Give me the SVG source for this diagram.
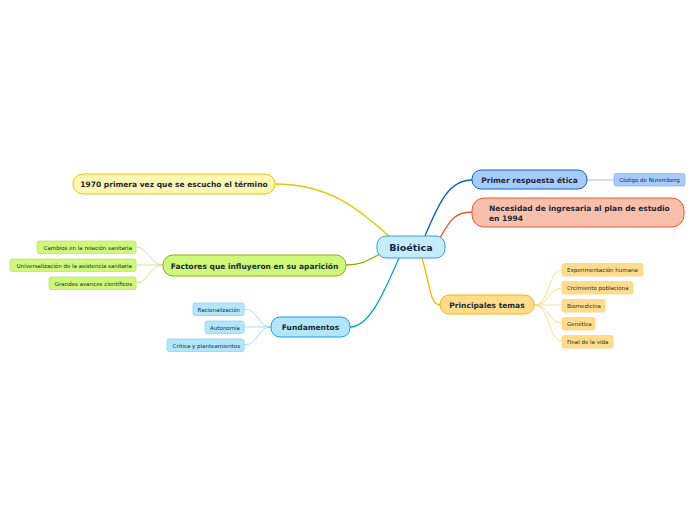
<svg xmlns="http://www.w3.org/2000/svg" width="696" height="520" viewBox="0 0 696 520">
<style>
text{font-family:"DejaVu Sans","Liberation Sans",sans-serif;fill:#1a2a33}
.m{font-size:7.5px;font-weight:bold}
.s{font-size:5.5px}
.c{fill:none;stroke-width:1.3}
.t{fill:none;stroke-width:0.8}
</style>
<rect width="696" height="520" fill="#fff"/>
<g id="connectors">
<path class="c" stroke="#e6c800" d="M390,237 C360,210 330,184 275,184"/>
<path class="c" stroke="#86b300" d="M382,253 C365,262 360,265 346,265"/>
<path class="c" stroke="#0aa0e6" d="M399,258 C385,290 370,327 350,327"/>
<path class="c" stroke="#0b5fd0" d="M425,236 C440,200 450,180 472,180"/>
<path class="c" stroke="#ee5a2a" d="M440,238 C450,220 455,212 472,212"/>
<path class="c" stroke="#ffb300" d="M422,258 C430,285 430,305 440,305"/>
<path class="t" stroke="#8bb3f0" d="M587,180 C600,180 600,180 614,180"/>
<g class="t" stroke="#ffd37a">
<path d="M534,305 C550,305 548,270 562,270"/>
<path d="M534,305 C550,305 548,288 562,288"/>
<path d="M534,305 L562,305"/>
<path d="M534,305 C550,305 548,323 562,323"/>
<path d="M534,305 C550,305 548,341 562,341"/>
</g>
<g class="t" stroke="#c6e07a">
<path d="M163,265 C150,265 148,247 136,247"/>
<path d="M163,265 L136,265"/>
<path d="M163,265 C150,265 148,283 136,283"/>
</g>
<g class="t" stroke="#8ad6f5">
<path d="M271,327 C258,327 258,309 244,309"/>
<path d="M271,327 L244,327"/>
<path d="M271,327 C258,327 258,345 244,345"/>
</g>
</g>
<g id="bioetica"><rect x="377" y="236" width="68" height="22" rx="9" fill="#c6ebfb" stroke="#3a9bd5"/><text x="411" y="251" text-anchor="middle" font-size="9.5" font-weight="bold" style="fill:#0d2a4a">Bioética</text></g>
<g id="primer"><rect x="472" y="170" width="115" height="19" rx="9" fill="#a7cbff" stroke="#0b5fd0"/><text x="529.5" y="182.5" text-anchor="middle" class="m">Primer respuesta ética</text></g>
<g id="nuremberg"><rect x="614" y="173.5" width="71" height="12.5" rx="2" fill="#a7cbff" stroke="#8bb3f0" stroke-width="0.8"/><text x="649.5" y="182" text-anchor="middle" class="s">Código de Nuremberg</text></g>
<g id="necesidad"><rect x="472" y="198" width="212" height="29" rx="12" fill="#f8bfad" stroke="#ee5a2a"/><text x="489" y="211" class="m">Necesidad de ingresaria al plan de estudio</text><text x="489" y="220.5" class="m">en 1994</text></g>
<g id="principales"><rect x="440" y="295" width="94" height="19" rx="9" fill="#ffdc8a" stroke="#ffb300"/><text x="487" y="307.5" text-anchor="middle" class="m">Principales temas</text></g>
<g id="exp"><rect x="562" y="263.5" width="81" height="12.5" rx="2" fill="#ffdc8a" stroke="#ffd37a" stroke-width="0.8"/><text x="567" y="272" class="s">Experimentación humana</text></g>
<g id="crec"><rect x="562" y="281.5" width="71" height="12.5" rx="2" fill="#ffdc8a" stroke="#ffd37a" stroke-width="0.8"/><text x="567" y="290" class="s">Crcimiento poblaciona</text></g>
<g id="biomed"><rect x="562" y="299.5" width="43" height="12.5" rx="2" fill="#ffdc8a" stroke="#ffd37a" stroke-width="0.8"/><text x="567" y="308" class="s">Biomedicina</text></g>
<g id="genetica"><rect x="562" y="317.5" width="33" height="12.5" rx="2" fill="#ffdc8a" stroke="#ffd37a" stroke-width="0.8"/><text x="567" y="326" class="s">Genética</text></g>
<g id="final"><rect x="562" y="335.5" width="51" height="12.5" rx="2" fill="#ffdc8a" stroke="#ffd37a" stroke-width="0.8"/><text x="567" y="344" class="s">Final de la vida</text></g>
<g id="n1970"><rect x="73" y="174" width="202" height="20" rx="10" fill="#fff6b3" stroke="#e6c800"/><text x="174" y="187" text-anchor="middle" class="m">1970 primera vez que se escucho el término</text></g>
<g id="factores"><rect x="163" y="255" width="183" height="21" rx="10" fill="#cff77a" stroke="#86b300"/><text x="254.5" y="268.5" text-anchor="middle" class="m">Factores que influyeron en su aparición</text></g>
<g id="cambios"><rect x="37" y="241" width="99" height="12.5" rx="2" fill="#cff77a" stroke="#c6e07a" stroke-width="0.8"/><text x="132" y="249.5" text-anchor="end" class="s">Cambios en la relación sanitaria</text></g>
<g id="univ"><rect x="10" y="259" width="126" height="12.5" rx="2" fill="#cff77a" stroke="#c6e07a" stroke-width="0.8"/><text x="132" y="267.5" text-anchor="end" class="s">Universalización de la asistencia sanitaria</text></g>
<g id="grandes"><rect x="49" y="277" width="87" height="12.5" rx="2" fill="#cff77a" stroke="#c6e07a" stroke-width="0.8"/><text x="132" y="285.5" text-anchor="end" class="s">Grandes avances científicos</text></g>
<g id="fundamentos"><rect x="271" y="317" width="79" height="20" rx="9" fill="#b3e6fb" stroke="#0aa0e6"/><text x="310.5" y="330" text-anchor="middle" class="m">Fundamentos</text></g>
<g id="racional"><rect x="193" y="303" width="51" height="12.5" rx="2" fill="#b3e6fb" stroke="#8ad6f5" stroke-width="0.8"/><text x="240" y="311.5" text-anchor="end" class="s">Racionalización</text></g>
<g id="autonomia"><rect x="205" y="321" width="39" height="12.5" rx="2" fill="#b3e6fb" stroke="#8ad6f5" stroke-width="0.8"/><text x="240" y="329.5" text-anchor="end" class="s">Autonomía</text></g>
<g id="critica"><rect x="167" y="339" width="77" height="12.5" rx="2" fill="#b3e6fb" stroke="#8ad6f5" stroke-width="0.8"/><text x="240" y="347.5" text-anchor="end" class="s">Crítica y planteamientos</text></g>
</svg>
